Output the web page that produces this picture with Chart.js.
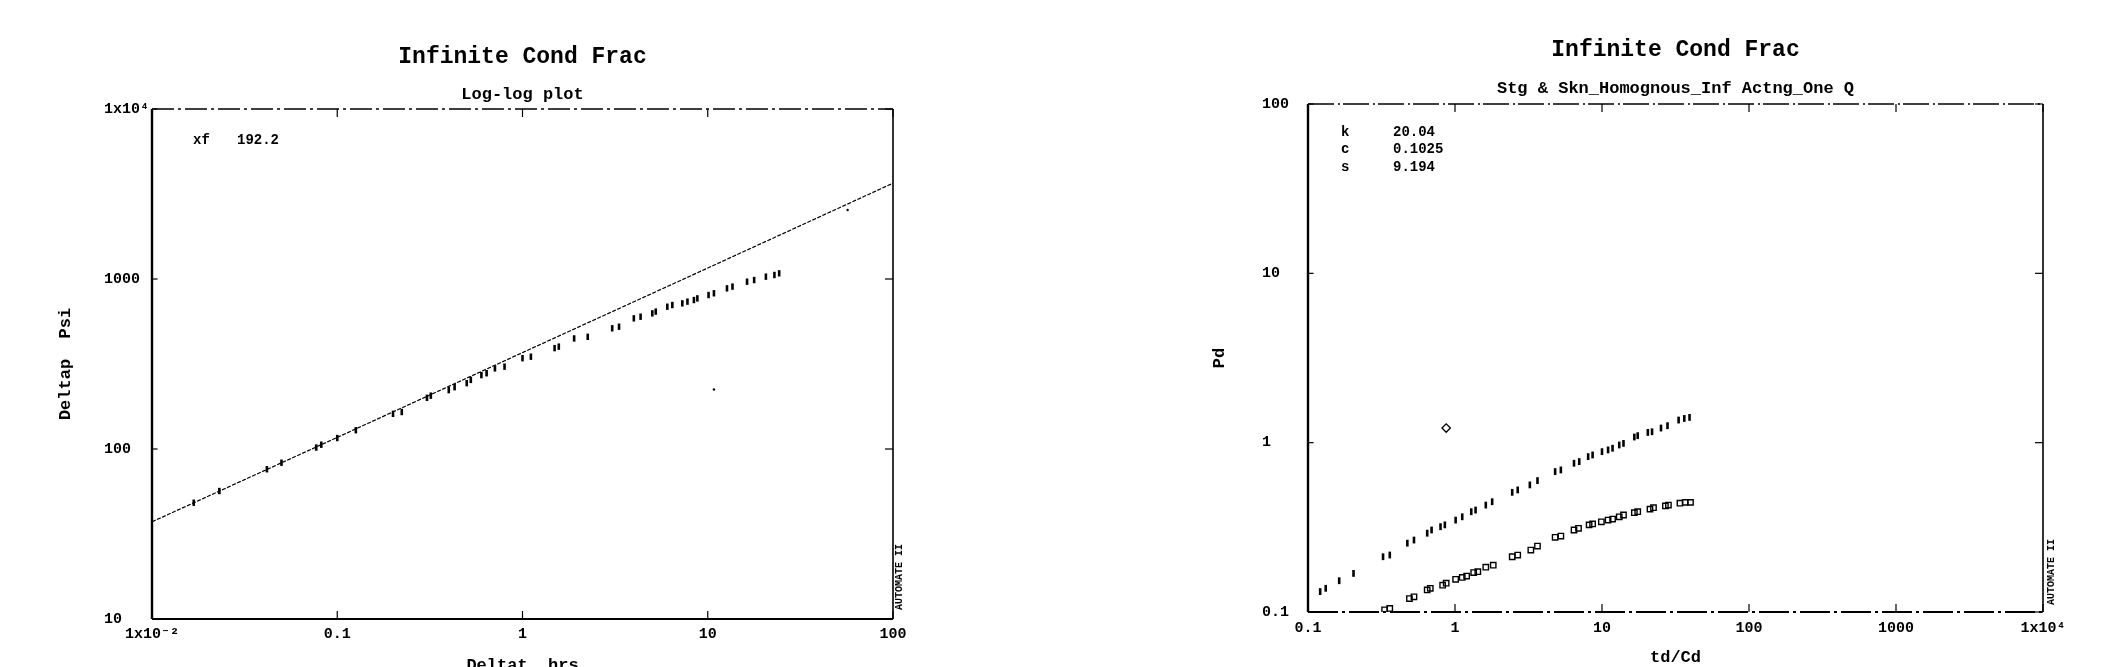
<!DOCTYPE html>
<html>
<head>
<meta charset="utf-8">
<title>Infinite Cond Frac</title>
<script src="https://cdn.jsdelivr.net/npm/chart.js@4.4.1/dist/chart.umd.min.js"></script>
<style>
  html, body { margin: 0; padding: 0; background: #fff; overflow: hidden; }
  .panel { position: absolute; top: 0; height: 667px; }
  #leftPanel { left: 0; width: 1060px; }
  #rightPanel { left: 1060px; width: 1059px; }
</style>
</head>
<body>
<div class="panel" id="leftPanel"><canvas id="logLogChart"></canvas></div>
<div class="panel" id="rightPanel"><canvas id="typeCurveChart"></canvas></div>
<script>
const FONT = "'Liberation Mono', 'Courier New', monospace";

// ---- left plot: Deltap vs Deltat ----
const leftXTicks = [0.01, 0.1, 1, 10, 100];
const leftXLabels = ['1x10\u207B\u00B2', '0.1', '1', '10', '100'];
const leftYTicks = [10, 100, 1000, 10000];
const leftYLabels = ['10', '100', '1000', '1x10\u2074'];

const deltaT = [0.0168, 0.0231, 0.0417, 0.050, 0.077, 0.082, 0.1, 0.126, 0.200, 0.223,
  0.305, 0.32, 0.40, 0.43, 0.50, 0.526, 0.60, 0.64, 0.71, 0.80, 1.0, 1.11, 1.49, 1.57,
  1.9, 2.25, 3.05, 3.32, 3.99, 4.34, 5.02, 5.24, 6.05, 6.44, 7.29, 7.77, 8.42, 8.79,
  10.1, 10.8, 12.7, 13.6, 16.3, 17.8, 20.6, 22.9, 24.3];
const deltaP = [48.3, 56.6, 76, 83, 102, 106, 116, 129, 161, 165,
  200, 206, 222, 231, 244, 255, 272, 279, 298, 305, 342, 349, 392, 400,
  447, 457, 513, 524, 587, 600, 628, 643, 687, 703, 719, 736, 752, 769,
  805, 824, 881, 902, 964, 986, 1032, 1056, 1080];

const modelT = [0.01, 0.1, 1, 10, 100];
const modelP = [37.3, 117, 369, 1160, 3660];

const strayT = [56.9, 10.8];
const strayP = [2546, 224];

const leftNotes = [['xf', '192.2']];

// ---- right plot: Pd vs td/Cd ----
const rightXTicks = [0.1, 1, 10, 100, 1000, 10000];
const rightXLabels = ['0.1', '1', '10', '100', '1000', '1x10\u2074'];
const rightYTicks = [0.1, 1, 10, 100];
const rightYLabels = ['0.1', '1', '10', '100'];

const upperTd = [0.121, 0.132, 0.163, 0.204, 0.324, 0.36, 0.474, 0.526, 0.647, 0.693,
  0.797, 0.853, 1.01, 1.12, 1.29, 1.38, 1.62, 1.79, 2.45, 2.67, 3.23, 3.64, 4.8, 5.25,
  6.45, 7.0, 8.05, 8.63, 10.0, 11.0, 11.8, 13.1, 14.0, 16.6, 17.5, 20.5, 21.9, 25.2,
  27.9, 33.2, 36.3, 39.4];
const upperPd = [0.132, 0.138, 0.153, 0.169, 0.212, 0.217, 0.255, 0.266, 0.292, 0.305,
  0.319, 0.327, 0.349, 0.365, 0.391, 0.40, 0.428, 0.448, 0.509, 0.526, 0.563, 0.597,
  0.675, 0.690, 0.756, 0.773, 0.827, 0.846, 0.885, 0.906, 0.927, 0.969, 0.99, 1.08,
  1.10, 1.15, 1.16, 1.22, 1.26, 1.36, 1.39, 1.41];

const lowerTd = [0.332, 0.36, 0.49, 0.526, 0.647, 0.679, 0.824, 0.871, 1.01, 1.12, 1.2,
  1.34, 1.43, 1.62, 1.82, 2.45, 2.67, 3.28, 3.64, 4.8, 5.25, 6.45, 6.92, 8.17, 8.63,
  9.9, 11.0, 11.8, 13.1, 14.0, 16.6, 17.5, 21.2, 22.4, 27.0, 28.3, 33.9, 36.8, 40.0];
const lowerPd = [0.103, 0.105, 0.120, 0.123, 0.135, 0.138, 0.144, 0.148, 0.156, 0.160,
  0.163, 0.171, 0.173, 0.184, 0.189, 0.212, 0.217, 0.232, 0.245, 0.276, 0.281, 0.305,
  0.312, 0.327, 0.331, 0.341, 0.349, 0.354, 0.365, 0.374, 0.386, 0.391, 0.405, 0.413,
  0.423, 0.428, 0.439, 0.444, 0.444];

const markerTd = [0.871];
const markerPd = [1.22];

const rightNotes = [['k', '20.04'], ['c', '0.1025'], ['s', '9.194']];

const toPoints = (xs, ys) => xs.map((x, i) => ({ x, y: ys[i] }));

Chart.defaults.font.family = FONT;
Chart.defaults.color = '#000';

// plot frame with inward decade ticks
const framePlugin = {
    id: 'frame',
    afterDatasetsDraw(chart, args, opts) {
        const { ctx, chartArea: a, scales: { x, y } } = chart;
        const tl = opts.tickLength;
        const seg = (x1, y1, x2, y2, w, dash) => {
            ctx.lineWidth = w;
            ctx.setLineDash(dash || []);
            ctx.beginPath();
            ctx.moveTo(x1, y1);
            ctx.lineTo(x2, y2);
            ctx.stroke();
        };
        ctx.save();
        ctx.strokeStyle = '#000';
        seg(a.left, a.top, a.right, a.top, 1.4, opts.topDash);
        seg(a.left, a.bottom, a.right, a.bottom, 1.8, opts.bottomDash);
        seg(a.left, a.top, a.left, a.bottom, 2.4);
        seg(a.right, a.top, a.right, a.bottom, 1.6);
        x.ticks.forEach(t => {
            const px = x.getPixelForValue(t.value);
            seg(px, a.top, px, a.top + tl, 1.2);
            seg(px, a.bottom, px, a.bottom - tl, 1.2);
        });
        y.ticks.forEach(t => {
            const py = y.getPixelForValue(t.value);
            seg(a.left, py, a.left + tl * 0.7, py, 1.2);
            seg(a.right, py, a.right - tl, py, 1.2);
        });
        ctx.restore();
    }
};

// parameter block in the corner and the little rotated stamp
const notesPlugin = {
    id: 'notes',
    afterDraw(chart, args, opts) {
        const { ctx, chartArea: a } = chart;
        ctx.save();
        ctx.fillStyle = '#000';
        ctx.textBaseline = 'middle';
        ctx.font = `bold ${opts.size}px ${FONT}`;
        opts.lines.forEach(([name, value], i) => {
            const yy = a.top + opts.top + i * opts.step;
            ctx.fillText(name, a.left + opts.nameX, yy);
            ctx.fillText(value, a.left + opts.valueX, yy);
        });
        ctx.translate(a.right + opts.stampX, a.bottom - opts.stampBottom);
        ctx.rotate(-Math.PI / 2);
        ctx.font = `bold 10px ${FONT}`;
        ctx.fillText('AUTOMATE II', 0, 0);
        ctx.restore();
    }
};

function logAxis(min, max, ticks, labels, size, pad, title) {
    return {
        type: 'logarithmic',
        min: min,
        max: max,
        afterBuildTicks: axis => { axis.ticks = ticks.map(v => ({ value: v })); },
        afterFit: scale => {
            if (scale.isHorizontal()) scale.height = size;
            else scale.width = size;
        },
        grid: { display: false, drawTicks: false },
        border: { display: false },
        ticks: {
            callback: (v, i) => labels[i],
            autoSkip: false,
            maxRotation: 0,
            minRotation: 0,
            padding: pad,
            crossAlign: 'far',
            color: '#000',
            font: { size: 15, weight: 'bold' }
        },
        title: {
            display: true,
            text: title.text,
            color: '#000',
            font: { size: 17, weight: 'bold' },
            padding: title.padding
        }
    };
}

function headings(main, sub, pads) {
    return {
        legend: { display: false },
        tooltip: { enabled: false },
        title: {
            display: true,
            text: main,
            fullSize: false,
            color: '#000',
            font: { size: 23, weight: 'bold' },
            padding: pads[0]
        },
        subtitle: {
            display: true,
            text: sub,
            fullSize: false,
            color: '#000',
            font: { size: 17, weight: 'bold' },
            padding: pads[1]
        }
    };
}

const leftPlugins = headings('Infinite Cond Frac', 'Log-log plot',
    [{ top: 43.2, bottom: 0 }, { top: 14.0, bottom: 3.8 }]);
leftPlugins.frame = { tickLength: 8, topDash: [22, 4, 3, 4], bottomDash: [] };
leftPlugins.notes = { lines: leftNotes, size: 14, top: 31, step: 17, nameX: 41, valueX: 85, stampX: 6, stampBottom: 9 };

new Chart(document.getElementById('logLogChart'), {
    type: 'scatter',
    data: {
        datasets: [{
            label: 'Model',
            data: toPoints(modelT, modelP),
            showLine: true,
            pointRadius: 0,
            borderColor: '#000',
            borderWidth: 1.2,
            borderDash: [4, 1.5]
        }, {
            label: 'Deltap',
            data: toPoints(deltaT, deltaP),
            pointStyle: 'line',
            rotation: 90,
            pointRadius: 3.2,
            borderColor: '#000',
            borderWidth: 2.6
        }, {
            label: 'Stray',
            data: toPoints(strayT, strayP),
            pointStyle: 'circle',
            pointRadius: 1.2,
            borderWidth: 0,
            backgroundColor: '#000'
        }]
    },
    options: {
        responsive: true,
        maintainAspectRatio: false,
        animation: false,
        events: [],
        layout: { padding: { left: 104, right: 167, top: 0, bottom: 0 } },
        plugins: leftPlugins,
        scales: {
            x: logAxis(0.01, 100, leftXTicks, leftXLabels, 48, 15,
                { text: 'Deltat, hrs', padding: { top: 0, bottom: -8.7 } }),
            y: logAxis(10, 10000, leftYTicks, leftYLabels, 48, 0,
                { text: 'Deltap  Psi', padding: { top: -48.2, bottom: 0 } })
        }
    },
    plugins: [framePlugin, notesPlugin]
});

const rightPlugins = headings('Infinite Cond Frac', 'Stg & Skn_Homognous_Inf Actng_One Q',
    [{ top: 36.2, bottom: 0 }, { top: 15.0, bottom: 4.8 }]);
rightPlugins.frame = { tickLength: 8, topDash: [26, 4, 2, 3], bottomDash: [30, 4, 3, 4] };
rightPlugins.notes = { lines: rightNotes, size: 14, top: 28, step: 17.5, nameX: 33, valueX: 85, stampX: 8, stampBottom: 7 };

new Chart(document.getElementById('typeCurveChart'), {
    type: 'scatter',
    data: {
        datasets: [{
            label: 'Pd',
            data: toPoints(upperTd, upperPd),
            pointStyle: 'line',
            rotation: 90,
            pointRadius: 3.4,
            borderColor: '#000',
            borderWidth: 2.6
        }, {
            label: 'Derivative',
            data: toPoints(lowerTd, lowerPd),
            pointStyle: 'rect',
            pointRadius: 3.8,
            borderColor: '#000',
            borderWidth: 1.4,
            backgroundColor: 'rgba(0,0,0,0)'
        }, {
            label: 'Match',
            data: toPoints(markerTd, markerPd),
            pointStyle: 'rectRot',
            pointRadius: 4.2,
            borderColor: '#000',
            borderWidth: 1.3,
            backgroundColor: 'rgba(0,0,0,0)'
        }]
    },
    options: {
        responsive: true,
        maintainAspectRatio: false,
        animation: false,
        events: [],
        layout: { padding: { left: 202, right: 76, top: 0, bottom: 0 } },
        plugins: rightPlugins,
        scales: {
            x: logAxis(0.1, 10000, rightXTicks, rightXLabels, 55, 16,
                { text: 'td/Cd', padding: { top: 0, bottom: -0.7 } }),
            y: logAxis(0.1, 100, rightYTicks, rightYLabels, 46, 0,
                { text: 'Pd', padding: { top: -52.2, bottom: 0 } })
        }
    },
    plugins: [framePlugin, notesPlugin]
});
</script>
</body>
</html>
